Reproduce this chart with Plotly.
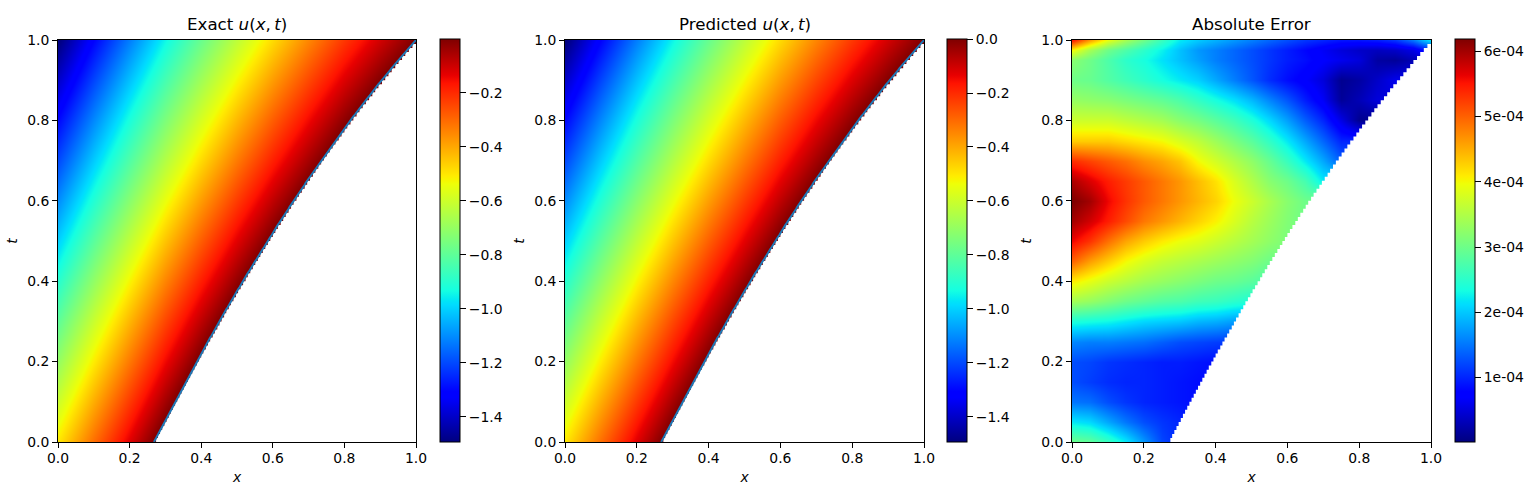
import plotly.graph_objects as go

# ---------- values ----------
x_coarse = [0.0, 0.1, 0.2, 0.3, 0.4, 0.5, 0.6, 0.7, 0.8, 0.9, 1.0]
t_coarse = [0.0, 0.1, 0.2, 0.3, 0.4, 0.5, 0.6, 0.7, 0.8, 0.9, 1.0]

exact_u = [
    [-0.500, -0.305, -0.120, 0.055, 0.220, 0.375, 0.520, 0.655, 0.780, 0.895, 1.000],
    [-0.600, -0.405, -0.220, -0.045, 0.120, 0.275, 0.420, 0.555, 0.680, 0.795, 0.900],
    [-0.700, -0.505, -0.320, -0.145, 0.020, 0.175, 0.320, 0.455, 0.580, 0.695, 0.800],
    [-0.800, -0.605, -0.420, -0.245, -0.080, 0.075, 0.220, 0.355, 0.480, 0.595, 0.700],
    [-0.900, -0.705, -0.520, -0.345, -0.180, -0.025, 0.120, 0.255, 0.380, 0.495, 0.600],
    [-1.000, -0.805, -0.620, -0.445, -0.280, -0.125, 0.020, 0.155, 0.280, 0.395, 0.500],
    [-1.100, -0.905, -0.720, -0.545, -0.380, -0.225, -0.080, 0.055, 0.180, 0.295, 0.400],
    [-1.200, -1.005, -0.820, -0.645, -0.480, -0.325, -0.180, -0.045, 0.080, 0.195, 0.300],
    [-1.300, -1.105, -0.920, -0.745, -0.580, -0.425, -0.280, -0.145, -0.020, 0.095, 0.200],
    [-1.400, -1.205, -1.020, -0.845, -0.680, -0.525, -0.380, -0.245, -0.120, -0.005, 0.100],
    [-1.500, -1.305, -1.120, -0.945, -0.780, -0.625, -0.480, -0.345, -0.220, -0.105, 0.000],
]

predicted_u = [
    [-0.5003, -0.3053, -0.1201, 0.0551, 0.2201, 0.3751, 0.5200, 0.6550, 0.7800, 0.8950, 1.0000],
    [-0.6001, -0.4051, -0.2201, -0.0451, 0.1201, 0.2751, 0.4200, 0.5550, 0.6800, 0.7950, 0.9000],
    [-0.7001, -0.5051, -0.3201, -0.1451, 0.0201, 0.1751, 0.3200, 0.4550, 0.5800, 0.6950, 0.8000],
    [-0.8002, -0.6052, -0.4202, -0.2452, -0.0802, 0.0751, 0.2200, 0.3550, 0.4800, 0.5950, 0.7000],
    [-0.9004, -0.7054, -0.5203, -0.3453, -0.1803, -0.0252, 0.1200, 0.2550, 0.3800, 0.4950, 0.6000],
    [-1.0006, -0.8055, -0.6204, -0.4454, -0.2804, -0.1253, 0.0200, 0.1550, 0.2800, 0.3950, 0.5000],
    [-1.1006, -0.9056, -0.7205, -0.5455, -0.3804, -0.2253, -0.0803, 0.0550, 0.1800, 0.2950, 0.4000],
    [-1.2005, -1.0055, -0.8205, -0.6454, -0.4804, -0.3253, -0.1802, -0.0451, 0.0800, 0.1950, 0.3000],
    [-1.3004, -1.1054, -0.9204, -0.7453, -0.5803, -0.4252, -0.2802, -0.1451, -0.0200, 0.0950, 0.2000],
    [-1.4003, -1.2053, -1.0202, -0.8452, -0.6802, -0.5251, -0.3801, -0.2451, -0.1200, -0.0050, 0.1000],
    [-1.5005, -1.3053, -1.1203, -0.9452, -0.7802, -0.6252, -0.4801, -0.3451, -0.2201, -0.1051, 0.0002],
]

x_error = [0.0, 0.05, 0.1, 0.15, 0.2, 0.25, 0.3, 0.35, 0.4, 0.45, 0.5,
           0.55, 0.6, 0.65, 0.7, 0.75, 0.8, 0.85, 0.9, 0.95, 1.0]
t_error = [0.0, 0.05, 0.1, 0.15, 0.2, 0.25, 0.3, 0.35, 0.4, 0.45, 0.5,
           0.55, 0.6, 0.65, 0.7, 0.75, 0.8, 0.85, 0.9, 0.95, 0.975, 1.0]

# absolute error in units of 1e-4; each row stops at the free boundary
error_e4_rows = [
    [3.0, 2.9, 2.6, 2.2, 1.7, 1.2, 1.0],
    [2.2, 2.1, 1.8, 1.5, 1.25, 1.1, 1.0, 0.95],
    [1.5, 1.45, 1.25, 1.1, 1.0, 0.95, 0.9, 0.85],
    [1.25, 1.15, 1.05, 1.0, 1.0, 0.95, 0.9, 0.85, 0.85],
    [1.25, 1.2, 1.1, 1.05, 1.0, 0.95, 0.95, 0.9, 0.85],
    [1.6, 1.55, 1.55, 1.5, 1.45, 1.35, 1.25, 1.2, 1.15, 1.1],
    [2.4, 2.35, 2.3, 2.2, 2.1, 2.05, 2.0, 1.9, 1.85, 1.75],
    [3.4, 3.3, 3.15, 3.0, 2.9, 2.8, 2.75, 2.65, 2.6, 2.5, 2.4],
    [4.1, 3.9, 3.7, 3.55, 3.4, 3.3, 3.2, 3.1, 3.0, 2.95, 2.85, 2.7],
    [5.0, 4.6, 4.3, 4.0, 3.8, 3.65, 3.55, 3.45, 3.35, 3.25, 3.15, 3.0],
    [5.6, 5.3, 4.9, 4.55, 4.3, 4.1, 3.95, 3.85, 3.7, 3.55, 3.4, 3.25, 3.1],
    [6.0, 5.75, 5.45, 5.15, 4.85, 4.65, 4.45, 4.25, 4.05, 3.8, 3.55, 3.35, 3.15, 3.0],
    [6.2, 6.0, 5.6, 5.3, 5.05, 4.85, 4.65, 4.45, 4.25, 3.95, 3.7, 3.45, 3.2, 3.0],
    [5.95, 5.7, 5.45, 5.25, 5.05, 4.85, 4.65, 4.4, 4.15, 3.8, 3.5, 3.2, 3.0, 2.7, 2.2],
    [5.35, 5.2, 5.05, 4.9, 4.7, 4.55, 4.35, 4.0, 3.75, 3.5, 3.25, 2.95, 2.6, 2.2, 1.8, 1.35],
    [4.3, 4.3, 4.3, 4.2, 4.1, 4.0, 3.8, 3.6, 3.35, 3.1, 2.85, 2.55, 2.2, 1.8, 1.4, 1.0],
    [3.7, 3.7, 3.7, 3.6, 3.5, 3.4, 3.2, 3.05, 2.85, 2.65, 2.4, 2.1, 1.75, 1.35, 1.0, 0.55, 0.1],
    [3.3, 3.25, 3.2, 3.1, 3.0, 2.9, 2.75, 2.55, 2.35, 2.15, 1.9, 1.6, 1.3, 0.95, 0.65, 0.15, 0.3, 0.5],
    [3.0, 2.95, 2.8, 2.65, 2.5, 2.35, 2.2, 2.05, 1.8, 1.55, 1.3, 1.05, 0.85, 0.7, 0.5, 0.1, 0.2, 0.4, 0.6],
    [3.2, 3.0, 2.75, 2.5, 2.35, 2.15, 1.95, 1.75, 1.55, 1.4, 1.25, 1.1, 0.95, 0.85, 0.7, 0.6, 0.5, 0.2, 0.15, 0.3],
    [4.0, 3.4, 3.0, 2.75, 2.5, 2.25, 1.95, 1.7, 1.55, 1.4, 1.25, 1.1, 0.95, 0.8, 0.65, 0.5, 0.4, 0.35, 0.4, 0.55, 1.0],
    [5.5, 4.6, 3.9, 3.4, 3.0, 2.6, 2.2, 2.0, 1.85, 1.7, 1.55, 1.4, 1.25, 1.1, 1.0, 0.9, 0.9, 0.95, 1.1, 1.5, 2.2],
]

t_boundary = [i / 200 for i in range(201)]
s_boundary = [
    0.268, 0.271, 0.274, 0.277, 0.279, 0.282, 0.285, 0.288, 0.291, 0.294, 0.297, 0.300, 0.303, 0.306, 0.309, 0.312, 0.315, 0.318, 0.321, 0.324,
    0.327, 0.330, 0.333, 0.336, 0.339, 0.342, 0.345, 0.348, 0.351, 0.354, 0.357, 0.360, 0.363, 0.366, 0.369, 0.372, 0.375, 0.378, 0.381, 0.385,
    0.388, 0.391, 0.394, 0.397, 0.400, 0.403, 0.406, 0.410, 0.413, 0.416, 0.419, 0.422, 0.425, 0.429, 0.432, 0.435, 0.438, 0.442, 0.445, 0.448,
    0.451, 0.454, 0.457, 0.461, 0.464, 0.467, 0.470, 0.474, 0.477, 0.480, 0.483, 0.487, 0.490, 0.493, 0.497, 0.500, 0.503, 0.507, 0.510, 0.514,
    0.517, 0.520, 0.524, 0.527, 0.530, 0.534, 0.537, 0.541, 0.544, 0.548, 0.551, 0.555, 0.558, 0.562, 0.565, 0.569, 0.572, 0.576, 0.579, 0.583,
    0.586, 0.590, 0.593, 0.597, 0.600, 0.604, 0.607, 0.611, 0.614, 0.618, 0.622, 0.625, 0.629, 0.633, 0.636, 0.640, 0.644, 0.647, 0.651, 0.655,
    0.658, 0.662, 0.666, 0.670, 0.673, 0.677, 0.681, 0.685, 0.689, 0.692, 0.696, 0.700, 0.704, 0.708, 0.712, 0.715, 0.719, 0.723, 0.727, 0.731,
    0.735, 0.739, 0.743, 0.747, 0.751, 0.755, 0.759, 0.763, 0.767, 0.771, 0.775, 0.780, 0.784, 0.788, 0.792, 0.796, 0.800, 0.804, 0.808, 0.813,
    0.817, 0.821, 0.825, 0.830, 0.834, 0.838, 0.842, 0.847, 0.851, 0.856, 0.860, 0.864, 0.869, 0.873, 0.878, 0.882, 0.886, 0.891, 0.895, 0.900,
    0.905, 0.909, 0.914, 0.918, 0.923, 0.928, 0.932, 0.937, 0.942, 0.946, 0.951, 0.956, 0.961, 0.965, 0.970, 0.975, 0.980, 0.985, 0.990, 0.995,
    1.000,
]

titles = ["Exact <i>u</i>(<i>x</i>,\u2009<i>t</i>)", "Predicted <i>u</i>(<i>x</i>,\u2009<i>t</i>)", "Absolute Error"]
axis_ticks = [0.0, 0.2, 0.4, 0.6, 0.8, 1.0]
u_ticks_exact = [-1.4, -1.2, -1.0, -0.8, -0.6, -0.4, -0.2]
u_ticks_pred = [-1.4, -1.2, -1.0, -0.8, -0.6, -0.4, -0.2, 0.0]
err_ticks = [1e-4, 2e-4, 3e-4, 4e-4, 5e-4, 6e-4]
err_tick_labels = ["1e-04", "2e-04", "3e-04", "4e-04", "5e-04", "6e-04"]

# ---------- styling ----------
FONT = "DejaVu Sans"
W, H = 1540, 500
TOP, BOTTOM = 40.0, 442.0
panels = [(58.0, 416.0, 439.5), (565.0, 924.0, 946.5), (1072.0, 1431.0, 1454.5)]
CB_W = 20

jet = [
    [0.0, "rgb(0,0,127)"], [0.11, "rgb(0,0,255)"], [0.125, "rgb(0,0,255)"],
    [0.34, "rgb(0,219,255)"], [0.35, "rgb(0,229,247)"], [0.375, "rgb(20,255,226)"],
    [0.64, "rgb(238,255,8)"], [0.65, "rgb(247,246,0)"], [0.66, "rgb(255,236,0)"],
    [0.89, "rgb(255,19,0)"], [0.91, "rgb(232,0,0)"], [1.0, "rgb(127,0,0)"],
]

# rows stop at the boundary; the remainder sits under the white mask
error_z = [[v * 1e-4 for v in r + [r[-1]] * (len(x_error) - len(r))] for r in error_e4_rows]

fig = go.Figure()


def colorbar(i, **kw):
    return dict(
        x=panels[i][2] / W, xanchor="left", xpad=0,
        y=(H - BOTTOM) / H, yanchor="bottom", ypad=0,
        len=(BOTTOM - TOP + 0.5) / H, lenmode="fraction",
        thickness=CB_W, thicknessmode="pixels",
        outlinecolor="black", outlinewidth=1,
        ticks="outside", ticklen=6, tickwidth=1, tickcolor="black",
        tickfont=dict(family=FONT, size=13.9, color="black"),
        **kw,
    )


heat = [
    (x_coarse, t_coarse, exact_u, -1.494, -0.0005, dict(tickmode="array", tickvals=u_ticks_exact, tickformat=".1f")),
    (x_coarse, t_coarse, predicted_u, -1.494, 0.0003, dict(tickmode="array", tickvals=u_ticks_pred, tickformat=".1f")),
    (x_error, t_error, error_z, 0.01e-4, 6.19e-4, dict(tickmode="array", tickvals=err_ticks, ticktext=err_tick_labels)),
]

shapes = []
for i, (xs, ts, z, zmin, zmax, cb) in enumerate(heat):
    xa = "x" if i == 0 else f"x{i + 1}"
    ya = "y" if i == 0 else f"y{i + 1}"
    fig.add_trace(go.Heatmap(
        x=xs, y=ts, z=z, zmin=zmin, zmax=zmax, zsmooth="best",
        colorscale=jet, colorbar=colorbar(i, **cb),
        xaxis=xa, yaxis=ya, hoverinfo="skip",
    ))
    # white region right of the free boundary, stepped like the sampled grid
    fig.add_trace(go.Scatter(
        x=s_boundary[::2] + [1.02, 1.02, s_boundary[0]],
        y=t_boundary[::2] + [1.0, 0.0, 0.0],
        mode="lines", fill="toself", fillcolor="white",
        line=dict(width=0, shape="hv"), showlegend=False,
        xaxis=xa, yaxis=ya, hoverinfo="skip",
    ))
    if i < 2:
        fig.add_trace(go.Scatter(
            x=s_boundary, y=t_boundary, mode="lines",
            line=dict(color="#1f77b4", width=2), showlegend=False,
            xaxis=xa, yaxis=ya, hoverinfo="skip",
        ))
    # frame drawn last so nothing tints the right-hand spine
    shapes.append(dict(
        type="rect", xref="paper", yref="paper",
        x0=(panels[i][0] - 0.5) / W, x1=(panels[i][1] + 0.5) / W,
        y0=(H - BOTTOM - 0.5) / H, y1=(H - TOP + 0.5) / H,
        line=dict(color="black", width=1), layer="above",
    ))

layout = dict(
    width=W, height=H, margin=dict(l=0, r=0, t=0, b=0, autoexpand=False),
    paper_bgcolor="white", plot_bgcolor="white", showlegend=False,
    font=dict(family=FONT, color="black", size=13.9),
    shapes=shapes,
)
annotations = []
for i, (x0, x1, _) in enumerate(panels):
    suffix = "" if i == 0 else str(i + 1)
    common = dict(
        range=[0, 1], showgrid=False, zeroline=False, showline=True, mirror=True,
        linecolor="black", linewidth=1, ticks="outside", ticklen=5, tickwidth=1,
        tickcolor="black", tickmode="array", tickvals=axis_ticks, tickformat=".1f",
        tickfont=dict(family=FONT, size=13.9, color="black"),
    )
    layout["xaxis" + suffix] = dict(
        domain=[x0 / W, x1 / W], anchor="y" + suffix, ticklabelstandoff=-2,
        title=dict(text="<i>x</i>", standoff=7, font=dict(family=FONT, size=13.9)), **common,
    )
    layout["yaxis" + suffix] = dict(
        domain=[(H - BOTTOM) / H, (H - TOP) / H], anchor="x" + suffix,
        title=dict(text="<i>t</i>", standoff=6, font=dict(family=FONT, size=13.9)), **common,
    )
    annotations.append(dict(
        text=titles[i], xref="paper", yref="paper",
        x=(x0 + x1) / 2 / W, y=(H - TOP + 3.5) / H,
        xanchor="center", yanchor="bottom", showarrow=False,
        font=dict(family=FONT, size=16.67, color="black"),
    ))
layout["annotations"] = annotations
fig.update_layout(**layout)

fig.write_html("out.html", config={"displayModeBar": False},
               post_script="document.body.style.margin='0';")
